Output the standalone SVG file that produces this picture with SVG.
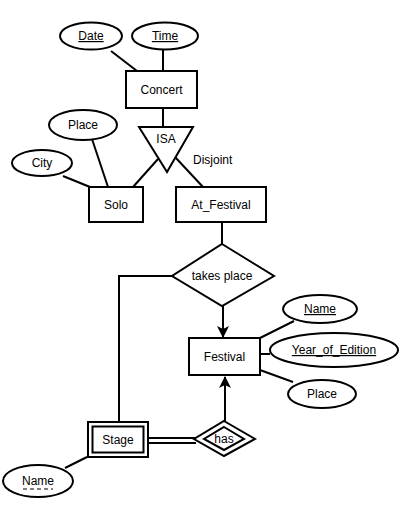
<svg xmlns="http://www.w3.org/2000/svg" width="405" height="510" viewBox="0 0 405 510">
<style>
.s{fill:#fff;stroke:#000;stroke-width:2}
.l{fill:none;stroke:#000;stroke-width:2}
text{font-family:"Liberation Sans",Arial,sans-serif;font-size:12px;fill:#000;text-anchor:middle}
</style>
<defs>
<marker id="ah" viewBox="0 0 12 12" refX="11" refY="6" markerWidth="12" markerHeight="12" markerUnits="userSpaceOnUse" orient="auto">
<path d="M0,0 L12,6 L0,12 L3,6 Z" fill="#000"/>
</marker>
</defs>
<rect width="405" height="510" fill="#fff"/>
<g id="connectors">
<line class="l" x1="111" y1="51" x2="137" y2="71"/>
<line class="l" x1="163" y1="50" x2="163" y2="71"/>
<line class="l" x1="163" y1="108" x2="163" y2="127"/>
<line class="l" x1="92" y1="139" x2="108" y2="187"/>
<line class="l" x1="63" y1="176" x2="90" y2="187"/>
<line class="l" x1="158" y1="159" x2="133" y2="187"/>
<line class="l" x1="175" y1="157" x2="203" y2="187"/>
<line class="l" x1="222" y1="222" x2="222" y2="244"/>
<polyline class="l" points="172,276 119,276 119,422"/>
<line class="l" x1="223" y1="306" x2="223" y2="337" marker-end="url(#ah)"/>
<line class="l" x1="225" y1="421" x2="225" y2="377" marker-end="url(#ah)"/>
<line class="l" x1="260" y1="338" x2="294" y2="321"/>
<line class="l" x1="260" y1="354" x2="270" y2="354"/>
<line class="l" x1="260" y1="370" x2="293" y2="382"/>
<line class="l" x1="148" y1="438" x2="196" y2="438"/>
<line class="l" x1="148" y1="443" x2="196" y2="443"/>
<line class="l" x1="87" y1="457" x2="65" y2="468"/>
</g>
<g id="date"><ellipse class="s" cx="91" cy="36" rx="31" ry="13.5"/><text x="91" y="40" text-decoration="underline">Date</text></g>
<g id="time"><ellipse class="s" cx="165" cy="36" rx="33" ry="13.5"/><text x="165" y="40" text-decoration="underline">Time</text></g>
<g id="concert"><rect class="s" x="126" y="71" width="71" height="37"/><text x="161.5" y="94">Concert</text></g>
<g id="isa"><polygon class="s" points="139,127 193,127 167,172"/><text x="166" y="143">ISA</text><text x="193" y="164" style="text-anchor:start">Disjoint</text></g>
<g id="place1"><ellipse class="s" cx="83" cy="125" rx="34" ry="15"/><text x="83" y="129">Place</text></g>
<g id="city"><ellipse class="s" cx="42" cy="163" rx="30" ry="13"/><text x="42" y="167">City</text></g>
<g id="solo"><rect class="s" x="89" y="187" width="54" height="35"/><text x="116" y="209">Solo</text></g>
<g id="atfestival"><rect class="s" x="176" y="187" width="90" height="35"/><text x="221" y="209">At_Festival</text></g>
<g id="takesplace"><polygon class="s" points="222,244 274,276 222,306 172,276"/><text x="222" y="280">takes place</text></g>
<g id="festival"><rect class="s" x="189" y="338" width="71" height="37"/><text x="224.5" y="361">Festival</text></g>
<g id="name1"><ellipse class="s" cx="320" cy="309" rx="37" ry="14"/><text x="320" y="313" text-decoration="underline">Name</text></g>
<g id="year"><ellipse class="s" cx="334" cy="350" rx="64" ry="17"/><text x="334" y="354" text-decoration="underline">Year_of_Edition</text></g>
<g id="place2"><ellipse class="s" cx="322" cy="394" rx="34" ry="14"/><text x="322" y="398">Place</text></g>
<g id="stage"><rect class="s" x="88" y="422" width="60" height="35"/><rect class="s" x="92.5" y="426.5" width="51" height="26"/><text x="118" y="444">Stage</text></g>
<g id="has"><polygon class="s" points="224,421 255,439 224,456 194,439"/><polygon class="s" points="224,427 244,439 224,450 204,439"/><text x="224" y="443">has</text></g>
<g id="name2"><ellipse class="s" cx="38" cy="481" rx="35" ry="16"/><text x="38" y="485">Name</text><line x1="23" y1="489" x2="53" y2="489" stroke="#000" stroke-width="1.2" stroke-dasharray="4,3"/></g>
</svg>
